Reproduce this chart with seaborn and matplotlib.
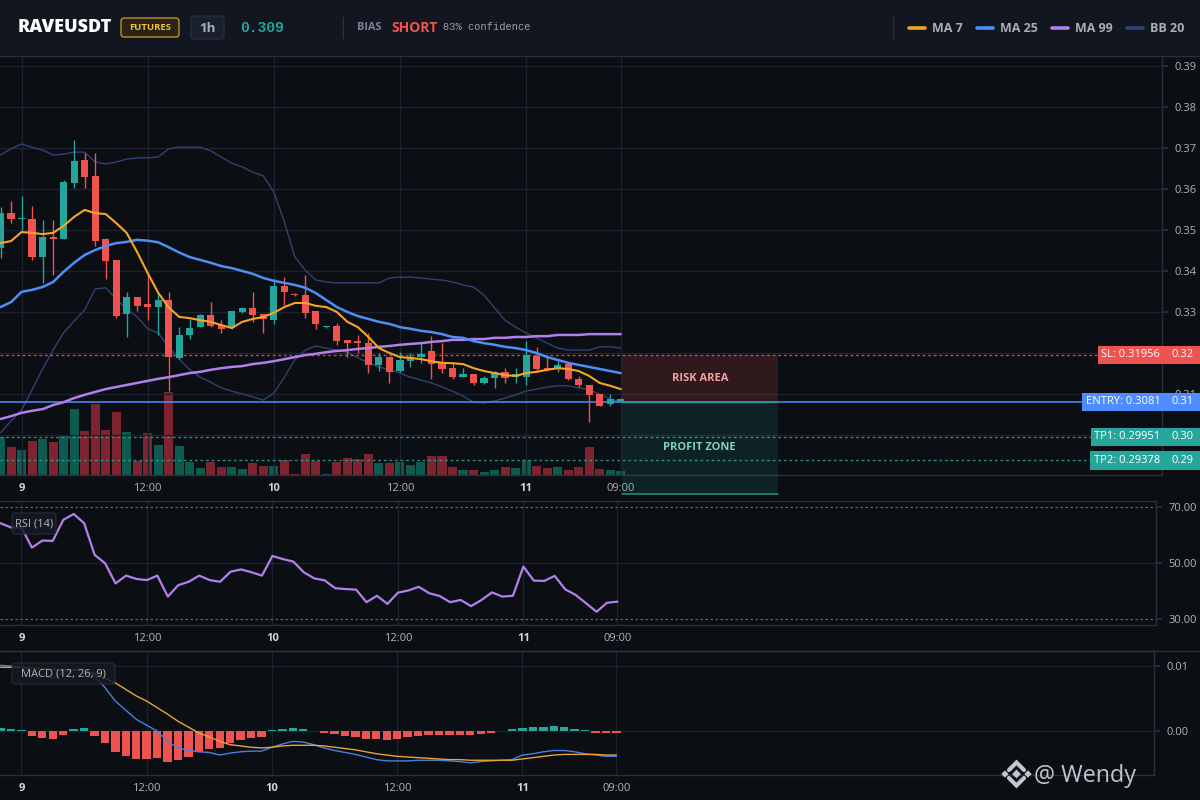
import numpy as np
import pandas as pd
import seaborn as sns
import matplotlib.pyplot as plt
from matplotlib.patches import Rectangle, FancyBboxPatch
from matplotlib.transforms import blended_transform_factory

BG = '#0b0e13'
HEAD = '#111620'
GRID = '#1c2230'
EDGE = '#28303e'
TXT = '#b2b5be'
UP = '#26a69a'
DN = '#ef5350'
VOL_UP = '#0e5a4f'
VOL_DN = '#7e2430'

sns.set_theme(style="dark", rc={"axes.facecolor": BG, "figure.facecolor": BG,
                                "axes.edgecolor": EDGE, "grid.color": GRID,
                                "xtick.color": TXT, "ytick.color": TXT})
plt.rcParams['font.family'] = ['Open Sans', 'DejaVu Sans']

# 1h candles, 22:00 on the 8th up to 09:00 on the 11th
opens = [0.3456, 0.3541, 0.3527, 0.3527, 0.3434, 0.3483, 0.3478, 0.3615, 0.3671, 0.3632,
         0.3478, 0.3427, 0.3295, 0.3337, 0.3320, 0.3312, 0.3329, 0.3188, 0.3244, 0.3263,
         0.3293, 0.3268, 0.3261, 0.3300, 0.3310, 0.3295, 0.3281, 0.3363, 0.3343, 0.3341,
         0.3302, 0.3263, 0.3266, 0.3232, 0.3229, 0.3224, 0.3171, 0.3190, 0.3156, 0.3180,
         0.3190, 0.3205, 0.3176, 0.3163, 0.3141, 0.3149, 0.3127, 0.3139, 0.3154, 0.3141,
         0.3141, 0.3193, 0.3163, 0.3163, 0.3173, 0.3137, 0.3122, 0.3100, 0.3076, 0.3083]
highs = [0.3556, 0.3571, 0.3583, 0.3559, 0.3524, 0.3524, 0.3622, 0.3720, 0.3688, 0.3688,
         0.3480, 0.3427, 0.3349, 0.3337, 0.3395, 0.3346, 0.3349, 0.3263, 0.3283, 0.3295,
         0.3324, 0.3280, 0.3302, 0.3312, 0.3349, 0.3295, 0.3380, 0.3385, 0.3346, 0.3390,
         0.3302, 0.3266, 0.3273, 0.3232, 0.3244, 0.3249, 0.3200, 0.3190, 0.3202, 0.3200,
         0.3224, 0.3241, 0.3224, 0.3176, 0.3163, 0.3149, 0.3144, 0.3156, 0.3163, 0.3163,
         0.3229, 0.3215, 0.3195, 0.3180, 0.3173, 0.3144, 0.3122, 0.3100, 0.3100, 0.3090]
lows = [0.3432, 0.3517, 0.3500, 0.3427, 0.3371, 0.3390, 0.3478, 0.3602, 0.3602, 0.3461,
        0.3380, 0.3285, 0.3239, 0.3302, 0.3280, 0.3244, 0.3107, 0.3185, 0.3234, 0.3263,
        0.3263, 0.3249, 0.3259, 0.3298, 0.3276, 0.3249, 0.3271, 0.3317, 0.3339, 0.3285,
        0.3259, 0.3261, 0.3220, 0.3190, 0.3200, 0.3151, 0.3156, 0.3127, 0.3154, 0.3166,
        0.3176, 0.3137, 0.3151, 0.3137, 0.3141, 0.3122, 0.3125, 0.3115, 0.3127, 0.3127,
        0.3122, 0.3154, 0.3156, 0.3154, 0.3134, 0.3117, 0.3032, 0.3071, 0.3071, 0.3082]
closes = [0.3541, 0.3527, 0.3528, 0.3434, 0.3483, 0.3478, 0.3617, 0.3668, 0.3629, 0.3473,
          0.3424, 0.3290, 0.3337, 0.3315, 0.3312, 0.3329, 0.3190, 0.3244, 0.3261, 0.3293,
          0.3266, 0.3259, 0.3302, 0.3310, 0.3293, 0.3283, 0.3363, 0.3349, 0.3341, 0.3298,
          0.3271, 0.3264, 0.3229, 0.3224, 0.3224, 0.3171, 0.3190, 0.3154, 0.3183, 0.3190,
          0.3198, 0.3173, 0.3161, 0.3141, 0.3149, 0.3127, 0.3139, 0.3154, 0.3139, 0.3149,
          0.3195, 0.3161, 0.3159, 0.3171, 0.3137, 0.3122, 0.3098, 0.3071, 0.3088, 0.3088]
volume = [38, 28, 25, 34, 36, 33, 39, 66, 44, 71, 45, 63, 43, 14, 42, 30, 83, 29, 13, 7,
          13, 8, 8, 6, 12, 9, 9, 15, 1, 21, 14, 1, 13, 17, 16, 21, 12, 12, 13, 10,
          13, 19, 19, 8, 5, 5, 3, 5, 8, 7, 15, 9, 7, 8, 5, 8, 28, 6, 5, 4]

ma7 = [0.3468, 0.3473, 0.3495, 0.3493, 0.3490, 0.3493, 0.3510, 0.3532, 0.3549, 0.3541,
       0.3539, 0.3517, 0.3493, 0.3446, 0.3395, 0.3347, 0.3311, 0.3288, 0.3285, 0.3280,
       0.3276, 0.3268, 0.3261, 0.3276, 0.3283, 0.3288, 0.3298, 0.3312, 0.3322, 0.3322,
       0.3315, 0.3312, 0.3300, 0.3276, 0.3263, 0.3239, 0.3212, 0.3200, 0.3190, 0.3188,
       0.3185, 0.3180, 0.3176, 0.3175, 0.3173, 0.3163, 0.3156, 0.3151, 0.3146, 0.3144,
       0.3151, 0.3154, 0.3159, 0.3163, 0.3161, 0.3156, 0.3144, 0.3127, 0.3120, 0.3112]
ma25 = [0.3312, 0.3324, 0.3349, 0.3354, 0.3361, 0.3373, 0.3398, 0.3420, 0.3439, 0.3451,
        0.3461, 0.3468, 0.3471, 0.3476, 0.3474, 0.3470, 0.3458, 0.3445, 0.3434, 0.3427,
        0.3420, 0.3412, 0.3407, 0.3400, 0.3393, 0.3383, 0.3376, 0.3371, 0.3366, 0.3359,
        0.3346, 0.3329, 0.3312, 0.3300, 0.3290, 0.3283, 0.3276, 0.3271, 0.3263, 0.3259,
        0.3254, 0.3251, 0.3246, 0.3239, 0.3237, 0.3229, 0.3224, 0.3220, 0.3215, 0.3212,
        0.3207, 0.3200, 0.3190, 0.3183, 0.3176, 0.3171, 0.3166, 0.3161, 0.3156, 0.3151]
ma99 = [0.3039, 0.3046, 0.3054, 0.3059, 0.3063, 0.3073, 0.3080, 0.3090, 0.3098, 0.3105,
        0.3112, 0.3117, 0.3122, 0.3127, 0.3132, 0.3137, 0.3141, 0.3146, 0.3151, 0.3154,
        0.3159, 0.3163, 0.3166, 0.3168, 0.3173, 0.3176, 0.3180, 0.3185, 0.3190, 0.3195,
        0.3198, 0.3202, 0.3205, 0.3207, 0.3210, 0.3212, 0.3215, 0.3217, 0.3220, 0.3222,
        0.3224, 0.3227, 0.3229, 0.3232, 0.3232, 0.3234, 0.3234, 0.3237, 0.3237, 0.3239,
        0.3239, 0.3241, 0.3241, 0.3244, 0.3244, 0.3244, 0.3246, 0.3246, 0.3246, 0.3246]
bb_upper = [0.3683, 0.3698, 0.3710, 0.3702, 0.3695, 0.3683, 0.3685, 0.3690, 0.3690, 0.3666,
            0.3661, 0.3666, 0.3673, 0.3676, 0.3676, 0.3678, 0.3698, 0.3702, 0.3702, 0.3702,
            0.3693, 0.3678, 0.3663, 0.3654, 0.3641, 0.3632, 0.3593, 0.3520, 0.3434, 0.3402,
            0.3378, 0.3373, 0.3371, 0.3371, 0.3371, 0.3371, 0.3371, 0.3383, 0.3385, 0.3385,
            0.3383, 0.3380, 0.3378, 0.3373, 0.3366, 0.3361, 0.3341, 0.3310, 0.3280, 0.3263,
            0.3249, 0.3237, 0.3224, 0.3212, 0.3207, 0.3207, 0.3207, 0.3215, 0.3215, 0.3212]
bb_lower = [0.3005, 0.3034, 0.3061, 0.3110, 0.3161, 0.3207, 0.3249, 0.3278, 0.3305, 0.3356,
            0.3359, 0.3332, 0.3307, 0.3288, 0.3259, 0.3249, 0.3215, 0.3185, 0.3159, 0.3141,
            0.3129, 0.3115, 0.3107, 0.3100, 0.3093, 0.3085, 0.3102, 0.3141, 0.3183, 0.3207,
            0.3217, 0.3212, 0.3207, 0.3202, 0.3188, 0.3176, 0.3166, 0.3159, 0.3151, 0.3141,
            0.3134, 0.3127, 0.3117, 0.3107, 0.3095, 0.3080, 0.3078, 0.3083, 0.3090, 0.3098,
            0.3107, 0.3112, 0.3117, 0.3120, 0.3120, 0.3115, 0.3110, 0.3100, 0.3088, 0.3080]

rsi = [64.2, 62.7, 62.7, 55.5, 58.0, 57.9, 65.4, 67.5, 64.2, 52.9,
       49.9, 42.7, 45.5, 44.3, 43.9, 45.5, 38.0, 42.1, 43.3, 45.5,
       43.9, 43.3, 46.9, 47.7, 46.7, 45.5, 52.5, 51.4, 50.5, 46.7,
       44.5, 43.8, 41.0, 40.7, 40.5, 36.0, 38.3, 35.4, 39.4, 40.2,
       41.5, 39.2, 38.2, 36.0, 36.8, 34.6, 36.8, 39.5, 38.0, 38.3,
       48.7, 43.7, 43.6, 45.4, 40.6, 38.6, 35.6, 32.6, 35.8, 36.2]

macd = [0.0101, 0.0100, 0.0098, 0.0092, 0.0086, 0.0081, 0.0090, 0.0094, 0.0096, 0.0085,
        0.0067, 0.0046, 0.0032, 0.0018, 0.0009, 0.0000, -0.0016, -0.0026, -0.0030, -0.0032,
        -0.0033, -0.0037, -0.0034, -0.0032, -0.0031, -0.0031, -0.0025, -0.0020, -0.0016, -0.0017,
        -0.0021, -0.0026, -0.0030, -0.0033, -0.0036, -0.0040, -0.0044, -0.0046, -0.0046, -0.0046,
        -0.0045, -0.0045, -0.0045, -0.0046, -0.0047, -0.0049, -0.0047, -0.0046, -0.0045, -0.0044,
        -0.0037, -0.0035, -0.0032, -0.0030, -0.0030, -0.0032, -0.0035, -0.0037, -0.0039, -0.0039]
signal = [0.0098, 0.0098, 0.0098, 0.0097, 0.0096, 0.0095, 0.0094, 0.0094, 0.0094, 0.0088,
          0.0081, 0.0074, 0.0064, 0.0054, 0.0046, 0.0036, 0.0026, 0.0015, 0.0006, -0.0003,
          -0.0009, -0.0016, -0.0021, -0.0023, -0.0025, -0.0026, -0.0025, -0.0023, -0.0022, -0.0022,
          -0.0022, -0.0023, -0.0025, -0.0027, -0.0029, -0.0032, -0.0035, -0.0037, -0.0039, -0.0040,
          -0.0041, -0.0042, -0.0043, -0.0044, -0.0044, -0.0045, -0.0045, -0.0045, -0.0045, -0.0045,
          -0.0043, -0.0041, -0.0039, -0.0037, -0.0036, -0.0036, -0.0036, -0.0036, -0.0037, -0.0037]
hist = [0.0004, 0.0003, 0.00015, -0.0007, -0.0010, -0.0012, -0.0006, 0.0003, 0.00046, -0.0007,
        -0.0018, -0.0033, -0.0038, -0.0043, -0.0043, -0.0041, -0.0047, -0.0045, -0.0040, -0.0033,
        -0.0028, -0.0026, -0.0019, -0.0014, -0.0011, -0.0009, 0.0001, 0.0003, 0.0005, 0.0003,
        0.00005, -0.0003, -0.0005, -0.0007, -0.0009, -0.0012, -0.0012, -0.0014, -0.0012, -0.0009,
        -0.0007, -0.0006, -0.0006, -0.0006, -0.0006, -0.0006, -0.0005, -0.00035, 0.00005, 0.00025,
        0.0004, 0.00055, 0.0006, 0.00075, 0.0006, 0.0003, 0.0002, -0.00025, -0.00035, -0.00035]

tick_idx = [2, 14, 26, 38, 50, 59]
tick_lbl = ['9', '12:00', '10', '12:00', '11', '09:00']
day_lbl = {'9', '10', '11'}

sl, entry, tp1, tp2 = 0.31956, 0.3081, 0.29951, 0.29378
zone_floor = 0.2856
levels = [('SL: 0.31956', sl, DN), ('ENTRY: 0.3081', entry, '#4e8cff'),
          ('TP1: 0.29951', tp1, UP), ('TP2: 0.29378', tp2, UP)]

df = pd.DataFrame({'t': np.arange(len(opens)), 'open': opens, 'high': highs,
                   'low': lows, 'close': closes, 'vol': volume})
up = df['close'] >= df['open']
XLIM = (-0.05, 110.5)

fig = plt.figure(figsize=(12, 8), dpi=100)
ax = fig.add_axes([0, 325 / 800, 1162 / 1200, 419 / 800])
ax_r = fig.add_axes([0, 175 / 800, 1156 / 1200, 124 / 800])
ax_m = fig.add_axes([0, 25 / 800, 1154 / 1200, 124 / 800])


def style_panel(a, top=True):
    a.set_xlim(*XLIM)
    a.set_axisbelow(True)
    a.grid(True, color=GRID, lw=1)
    a.yaxis.tick_right()
    a.tick_params(axis='y', length=4, color=EDGE, pad=5, labelsize=8, labelcolor=TXT)
    a.tick_params(axis='x', length=0, pad=6, labelsize=8)
    a.set_xticks(tick_idx)
    a.set_xticklabels(tick_lbl)
    for lab in a.get_xticklabels():
        if lab.get_text() in day_lbl:
            lab.set_fontweight('bold')
            lab.set_color('#d1d4dc')
        else:
            lab.set_color(TXT)
    for side in ['left', 'right', 'top', 'bottom']:
        a.spines[side].set_color(EDGE)
        a.spines[side].set_linewidth(1)
    a.spines['left'].set_visible(False)
    a.spines['top'].set_visible(top)
    a.set_xlabel('')
    a.set_ylabel('')


# ---- price panel ----
ax_v = ax.twinx()
ax_v.set_zorder(0)
ax.set_zorder(1)
ax.patch.set_visible(False)
ax_v.set_facecolor(BG)
ax_v.bar(df['t'], df['vol'], width=0.86, color=np.where(up, VOL_UP, VOL_DN), linewidth=0)
ax_v.set_ylim(0, max(volume) * 5.05)
ax_v.set_yticks([])
ax_v.grid(False)
for s in ax_v.spines.values():
    s.set_visible(False)

sns.lineplot(x=df['t'], y=bb_upper, ax=ax, color='#2e4373', linewidth=1, zorder=2)
sns.lineplot(x=df['t'], y=bb_lower, ax=ax, color='#2e4373', linewidth=1, zorder=2)

colors = np.where(up, UP, DN)
ax.vlines(df['t'], df['low'], df['high'], color=colors, lw=1, zorder=3)
body = (df['close'] - df['open']).abs().clip(lower=0.0003)
ax.bar(df['t'], body, bottom=df[['open', 'close']].min(axis=1), width=0.68,
       color=colors, linewidth=0, zorder=4)

sns.lineplot(x=df['t'], y=ma99, ax=ax, color='#b37feb', linewidth=1.8, zorder=5)
sns.lineplot(x=df['t'], y=ma25, ax=ax, color='#4d8ef7', linewidth=1.8, zorder=5)
sns.lineplot(x=df['t'], y=ma7, ax=ax, color='#f5a623', linewidth=1.5, zorder=5)

ax.axhline(sl, color=DN, ls=(0, (2, 2)), lw=1, alpha=0.85, zorder=2)
ax.axhline(entry, color='#4e8cff', lw=1.1, zorder=2)
ax.axhline(tp1, color=UP, ls=(0, (2, 2)), lw=1, alpha=0.85, zorder=2)
ax.axhline(tp2, color=UP, ls=(0, (2, 2)), lw=1, alpha=0.85, zorder=2)

z0, zw = 59.1, 14.85
ax.add_patch(Rectangle((z0, entry), zw, sl - entry, fc=DN, alpha=0.16,
                       ec='none', zorder=6))
ax.add_patch(Rectangle((z0, zone_floor), zw, entry - zone_floor, fc=UP, alpha=0.13,
                       ec='none', zorder=6, clip_on=False))
ax.plot([z0, z0 + zw], [zone_floor, zone_floor], color=UP, lw=1.2, alpha=0.8,
        zorder=6, clip_on=False)
ax.plot([z0, z0 + zw], [entry, entry], color=UP, lw=1, alpha=0.7, zorder=6)
ax.text(z0 + zw / 2, (sl + entry) / 2, 'RISK AREA', ha='center', va='center',
        fontsize=8, fontweight='bold', color='#f4a3a3', zorder=7)
ax.text(z0 + zw / 2, (entry + zone_floor) / 2, 'PROFIT ZONE', ha='center', va='center',
        fontsize=8, fontweight='bold', color='#7fd3c9', zorder=7)

ax.set_ylim(0.29024, 0.39244)
pt = np.round(np.arange(0.30, 0.3901, 0.01), 2)
ax.set_yticks(pt)
# labels at 0.30 and 0.32 sit under the price tags
ax.set_yticklabels(['' if v in (0.30, 0.32) else f'{v:.2f}' for v in pt])
style_panel(ax, top=False)

trans = blended_transform_factory(ax.transAxes, ax.transData)
tag_h = 0.0044
for lbl, v, c in levels:
    ax.text(0.9985, v, lbl, transform=trans, ha='right', va='center', fontsize=8,
            color='white', zorder=8,
            bbox=dict(boxstyle='square,pad=0.32', fc=c, ec='none'))
    ax.add_patch(Rectangle((1.0009, v - tag_h / 2), 0.034, tag_h, transform=trans,
                           fc=c, ec='none', clip_on=False, zorder=8))
    ax.text(1.0175, v, f'{v:.2f}', transform=trans, ha='center', va='center',
            fontsize=8, color='white', zorder=9)

# ---- RSI panel ----
sns.lineplot(x=df['t'], y=rsi, ax=ax_r, color='#b37feb', linewidth=1.6)
ax_r.set_ylim(27.86, 72.14)
ax_r.set_yticks([30, 50, 70])
ax_r.set_yticklabels(['30.00', '50.00', '70.00'])
style_panel(ax_r)
ax_r.grid(False, axis='y')
ax_r.axhline(50, color=GRID, lw=1, zorder=0)
ax_r.axhline(70, color='#5d6470', ls=(0, (2, 2)), lw=0.9)
ax_r.axhline(30, color='#5d6470', ls=(0, (2, 2)), lw=0.9)

# ---- MACD panel ----
ax_m.bar(df['t'], hist, width=0.8, color=np.where(np.array(hist) >= 0, UP, DN), linewidth=0)
sns.lineplot(x=df['t'], y=macd, ax=ax_m, color='#4a7fe0', linewidth=1)
sns.lineplot(x=df['t'], y=signal, ax=ax_m, color='#e8a33a', linewidth=1)
ax_m.set_ylim(-0.00677, 0.01231)
ax_m.set_yticks([0.0, 0.01])
ax_m.set_yticklabels(['0.00', '0.01'])
style_panel(ax_m)

# ---- header, panel tags, watermark (pixel overlay) ----
ax_o = fig.add_axes([0, 0, 1, 1], zorder=10)
ax_o.set_xlim(0, 1200)
ax_o.set_ylim(800, 0)
ax_o.axis('off')
ax_o.patch.set_visible(False)

ax_o.add_patch(Rectangle((0, 0), 1200, 55, fc=HEAD, ec='none'))
ax_o.plot([0, 1200], [55.5, 55.5], color=EDGE, lw=1)
ax_o.plot([0, 1200], [650.5, 650.5], color=EDGE, lw=1)

ax_o.text(18, 28, 'RAVEUSDT', fontsize=13, fontweight='heavy', color='white', va='center')
ax_o.add_patch(FancyBboxPatch((121, 18), 58, 19, boxstyle='round,pad=0,rounding_size=3',
                              fc='#2a2416', ec='#b8912a', lw=1))
ax_o.text(150, 28, 'FUTURES', fontsize=6.8, fontweight='bold', color='#f0c040',
          ha='center', va='center')
ax_o.add_patch(FancyBboxPatch((191, 16), 33, 23, boxstyle='round,pad=0,rounding_size=3',
                              fc='#1a202b', ec='#252d3a', lw=1))
ax_o.text(207.5, 28, '1h', fontsize=9.5, fontweight='bold', color='#a9aeb8',
          ha='center', va='center')
ax_o.text(240, 28, '0.309', fontsize=10.5, fontweight='bold', color=UP, va='center',
          family=['Liberation Mono', 'DejaVu Sans Mono'])
ax_o.plot([343, 343], [17, 38], color=EDGE, lw=1)
ax_o.text(357, 28, 'BIAS', fontsize=7.8, fontweight='bold', color='#7d8390', va='center')
ax_o.text(391, 28, 'SHORT', fontsize=10, fontweight='bold', color=DN, va='center')
ax_o.text(443, 27.5, '83% confidence', fontsize=7.5, color='#9aa0aa', va='center',
          family=['Liberation Mono', 'DejaVu Sans Mono'])

ax_o.plot([893, 893], [17, 38], color=EDGE, lw=1)
legend_items = [('MA 7', '#f5a623', 909), ('MA 25', '#4d8ef7', 977),
                ('MA 99', '#b37feb', 1052), ('BB 20', '#2e4373', 1127)]
for name, c, x0 in legend_items:
    ax_o.plot([x0, x0 + 16], [27.5, 27.5], color=c, lw=2.6, solid_capstyle='round')
    ax_o.text(x0 + 23, 28, name, fontsize=9, fontweight='bold', color='#a8aeb9', va='center')

for (x0, y0, w, txt) in [(12, 513, 44, 'RSI (14)'), (12, 663, 103, 'MACD (12, 26, 9)')]:
    ax_o.add_patch(FancyBboxPatch((x0, y0), w, 21, boxstyle='round,pad=0,rounding_size=3',
                                  fc='#141924', ec='#2a3140', lw=0.8, alpha=0.85))
    ax_o.text(x0 + w / 2, y0 + 10.5, txt, fontsize=8, color=TXT, ha='center', va='center')

lc = '#c2c6ce'
ax_o.plot([1009, 1016.5, 1024], [770, 762.5, 770], color=lc, lw=3, solid_joinstyle='miter')
ax_o.plot([1009, 1016.5, 1024], [778, 785.5, 778], color=lc, lw=3, solid_joinstyle='miter')
ax_o.scatter([1005, 1016.5, 1028], [774, 774, 774], marker='D', s=[14, 20, 14], color=lc,
             linewidths=0)
ax_o.text(1034, 782, '@ Wendy', fontsize=16.8, color=lc, va='baseline')

fig.savefig('out.png', dpi=100, facecolor=BG)
